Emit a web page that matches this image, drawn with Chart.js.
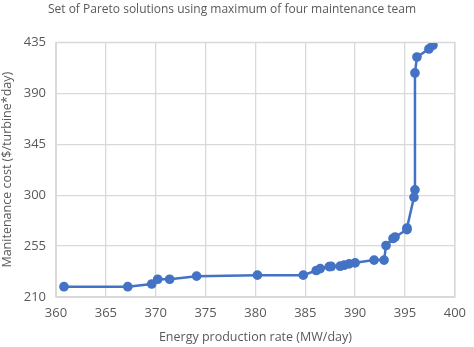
<!DOCTYPE html>
<html>
<head>
<meta charset="utf-8">
<script src="https://cdn.jsdelivr.net/npm/chart.js@4"></script>
<style>
  html, body { margin: 0; padding: 0; background: #fff; }
  .chart-container { position: relative; width: 474px; height: 347px; }
</style>
</head>
<body>
<div class="chart-container">
  <canvas id="pareto"></canvas>
</div>
<script>
// energy production rate (MW/day)
const energy = [360.8, 367.2, 369.6, 370.2, 371.4, 374.1, 380.2, 384.8, 386.1, 386.5, 387.4, 387.6,
  388.5, 388.9, 389.4, 390.0, 391.9, 392.9, 393.1, 393.8, 394.0, 395.2, 395.2, 395.9, 396.0,
  396.0, 396.2, 397.4, 397.8];
// maintenance cost ($/turbine*day)
const cost = [219.1, 219.1, 221.5, 225.7, 225.7, 228.4, 229.3, 229.3, 233.4, 235.1, 236.9, 237.0,
  237.2, 238.1, 239.3, 240.2, 242.6, 242.6, 255.5, 261.7, 263.0, 269.5, 271.0, 298.1, 304.7,
  408.0, 422.1, 429.2, 432.5];
const xTicks = [360, 365, 370, 375, 380, 385, 390, 395, 400];
const yTicks = [210, 255, 300, 345, 390, 435];

const points = energy.map((e, i) => ({ x: e, y: cost[i] }));
const font = "'Open Sans', 'Liberation Sans', sans-serif";
const grey = '#595959';

new Chart(document.getElementById('pareto').getContext('2d'), {
  type: 'scatter',
  data: {
    datasets: [{
      data: points,
      showLine: true,
      borderColor: '#4472C4',
      backgroundColor: '#4472C4',
      borderWidth: 2.5,
      pointRadius: 3.6,
      tension: 0,
    }]
  },
  options: {
    responsive: true,
    maintainAspectRatio: false,
    animation: false,
    layout: { padding: { right: 10, left: 0, top: 0, bottom: 0 } },
    plugins: {
      legend: false,
      tooltip: { enabled: false },
      title: {
        display: true,
        text: 'Set of Pareto solutions using maximum of four maintenance team',
        color: grey,
        font: { family: font, size: 12, weight: 'normal' },
        padding: { top: 2, bottom: 26 },
      },
    },
    scales: {
      x: {
        type: 'linear',
        min: xTicks[0],
        max: xTicks[xTicks.length - 1],
        afterBuildTicks: s => { s.ticks = xTicks.map(v => ({ value: v })); },
        grid: { color: '#d9d9d9', lineWidth: 1.3, drawTicks: false },
        border: { color: '#d9d9d9' },
        ticks: { color: grey, font: { family: font, size: 13 }, padding: 8 },
        title: { display: true, text: 'Energy production rate (MW/day)', color: grey,
          font: { family: font, size: 12.5 }, padding: { top: 3, bottom: 2 } },
        afterFit: s => { s.height = 50; },
      },
      y: {
        type: 'linear',
        min: yTicks[0],
        max: yTicks[yTicks.length - 1],
        afterBuildTicks: s => { s.ticks = yTicks.map(v => ({ value: v })); },
        grid: { color: '#d9d9d9', lineWidth: 1.3, drawTicks: false },
        border: { color: '#d9d9d9' },
        ticks: { color: grey, font: { family: font, size: 13 }, padding: 10 },
        title: { display: true, text: 'Manitenance cost ($/turbine*day)', color: grey,
          font: { family: font, size: 12.5 }, padding: { top: 0, bottom: 0 } },
        afterFit: s => { s.width = 56; },
      },
    },
  },
  plugins: [{
    id: 'frame',
    afterDraw(chart) {
      const { ctx, chartArea: a } = chart;
      ctx.save();
      ctx.strokeStyle = '#d9d9d9';
      ctx.lineWidth = 1.3;
      ctx.strokeRect(a.left, a.top, a.right - a.left, a.bottom - a.top);
      ctx.restore();
    }
  }]
});
</script>
</body>
</html>
